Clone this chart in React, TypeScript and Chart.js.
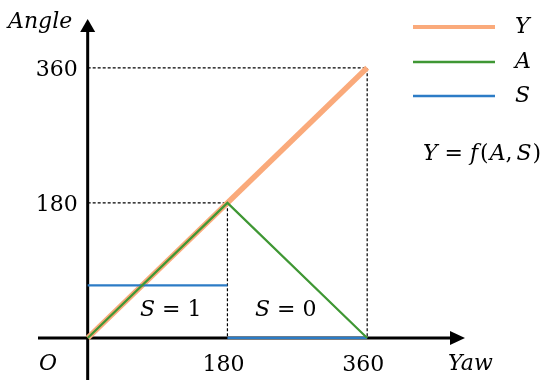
import React, { useEffect, useRef } from "react";
import { Chart, registerables } from "chart.js";

Chart.register(...registerables);

// ---- data ----
const yawTicks = [180, 360];
const angleTicks = [180, 360];
const yYaw = [0, 360];
const yValues = [0, 360];
const aYaw = [0, 180, 360];
const aValues = [0, 180, 0];
const sYaw = [0, 180, 180, 180, 360];
const sValues: (number | null)[] = [70, 70, null, 0, 0];
const seriesNames = ["Y", "A", "S"];

const COLORS = { Y: "#FAAA7B", A: "#3F9734", S: "#2C7CC6" };
const FONT = '"DejaVu Serif", "Liberation Serif", serif';

const toPts = (xs: number[], ys: (number | null)[]) => xs.map((x, i) => ({ x, y: ys[i] }));

type Run = [string, boolean, number?];
function drawRich(ctx: CanvasRenderingContext2D, runs: Run[], x: number, y: number, size: number, align: "left" | "center" | "right" = "left") {
  let total = 0;
  const widths = runs.map(([t, it, gap]) => {
    ctx.font = `${it ? "italic " : ""}${size}px ${FONT}`;
    const w = ctx.measureText(t).width + (gap || 0);
    total += w;
    return w;
  });
  let cx = align === "left" ? x : align === "center" ? x - total / 2 : x - total;
  ctx.textBaseline = "alphabetic";
  ctx.textAlign = "left";
  runs.forEach(([t, it], i) => {
    ctx.font = `${it ? "italic " : ""}${size}px ${FONT}`;
    ctx.fillText(t, cx, y);
    cx += widths[i];
  });
}

const axesPlugin = {
  id: "axesArrows",
  beforeDatasetsDraw(chart: any) {
    const ctx = chart.ctx as CanvasRenderingContext2D;
    const xs = chart.scales.x;
    const ys = chart.scales.y;
    const x0 = xs.getPixelForValue(0);
    const y0 = ys.getPixelForValue(0);
    const left = xs.getPixelForValue(xs.min);
    const right = xs.getPixelForValue(xs.max);
    const top = ys.getPixelForValue(ys.max);
    const bottom = ys.getPixelForValue(ys.min);
    ctx.save();
    ctx.strokeStyle = "#000";
    ctx.fillStyle = "#000";
    ctx.lineWidth = 3;
    ctx.beginPath();
    ctx.moveTo(left, y0);
    ctx.lineTo(right - 14, y0);
    ctx.moveTo(x0, bottom);
    ctx.lineTo(x0, top + 12);
    ctx.stroke();
    // arrow heads
    ctx.beginPath();
    ctx.moveTo(right, y0);
    ctx.lineTo(right - 15, y0 - 7);
    ctx.lineTo(right - 15, y0 + 7);
    ctx.closePath();
    ctx.fill();
    ctx.beginPath();
    ctx.moveTo(x0, top);
    ctx.lineTo(x0 - 7.5, top + 13);
    ctx.lineTo(x0 + 7.5, top + 13);
    ctx.closePath();
    ctx.fill();
    ctx.restore();
  },
  afterDraw(chart: any) {
    const ctx = chart.ctx as CanvasRenderingContext2D;
    const xs = chart.scales.x;
    const ys = chart.scales.y;
    const x0 = xs.getPixelForValue(0);
    const y0 = ys.getPixelForValue(0);
    ctx.save();
    ctx.fillStyle = "#000";
    const size = 22;
    // axis titles
    drawRich(ctx, [["Angle", true]], 8, 28, size);
    drawRich(ctx, [["Yaw", true]], 448, y0 + 32, size);
    drawRich(ctx, [["O", true]], 39, y0 + 32, size);
    // tick labels
    angleTicks.forEach((v) => {
      drawRich(ctx, [[String(v), false]], x0 - 10, ys.getPixelForValue(v) + 8, size, "right");
    });
    yawTicks.forEach((v) => {
      drawRich(ctx, [[String(v), false]], xs.getPixelForValue(v) - 4, y0 + 33, size, "center");
    });
    // region labels
    drawRich(ctx, [["S", true], [" = 1", false]], 140, 316, size);
    drawRich(ctx, [["S", true], [" = 0", false]], 255, 316, size);
    // legend
    const legendColors = [COLORS.Y, COLORS.A, COLORS.S];
    const legendW = [4, 2.5, 2.5];
    const legendY = [27, 62, 96];
    seriesNames.forEach((name, i) => {
      ctx.strokeStyle = legendColors[i];
      ctx.lineWidth = legendW[i];
      ctx.beginPath();
      ctx.moveTo(413, legendY[i]);
      ctx.lineTo(495, legendY[i]);
      ctx.stroke();
      drawRich(ctx, [[name, true]], 515, legendY[i] + 6, size);
    });
    drawRich(
      ctx,
      [["Y", true], [" = ", false], ["f", true, 2], ["(", false, 1], ["A", true], [",", false, 4], ["S", true, 1], [")", false]],
      423,
      160,
      size
    );
    ctx.restore();
  },
};

export default function App() {
  const ref = useRef<HTMLCanvasElement>(null);
  useEffect(() => {
    if (!ref.current) return;
    const dash = (pts: { x: number; y: number }[]) => ({
      data: pts,
      borderColor: "#000",
      borderWidth: 1.2,
      borderDash: [3, 2],
      pointRadius: 0,
      order: 5,
    });
    const chart = new Chart(ref.current, {
      type: "line",
      data: {
        datasets: [
          {
            label: "A",
            data: toPts(aYaw, aValues),
            borderColor: COLORS.A,
            borderWidth: 2.2,
            pointRadius: 0,
            order: 0,
          },
          {
            label: "Y",
            data: toPts(yYaw, yValues),
            borderColor: COLORS.Y,
            borderWidth: 5.5,
            pointRadius: 0,
            order: 2,
          },
          {
            label: "S",
            data: toPts(sYaw, sValues),
            borderColor: COLORS.S,
            borderWidth: 2.2,
            pointRadius: 0,
            spanGaps: false,
            order: 1,
          },
          dash([{ x: 0, y: angleTicks[1] }, { x: yawTicks[1], y: angleTicks[1] }, { x: yawTicks[1], y: 0 }]),
          dash([{ x: 0, y: angleTicks[0] }, { x: yawTicks[0], y: angleTicks[0] }, { x: yawTicks[0], y: 0 }]),
        ] as any,
      },
      options: {
        animation: false,
        responsive: false,
        devicePixelRatio: 1,
        layout: { padding: { left: 38, right: 85, top: 19, bottom: 5 } },
        plugins: { legend: { display: false }, tooltip: { enabled: false } },
        elements: { line: { tension: 0, borderCapStyle: "butt" } },
        scales: {
          x: { type: "linear", min: -64, max: 486, display: false },
          y: { type: "linear", min: -56, max: 425, display: false },
        },
      },
      plugins: [axesPlugin],
    });
    return () => chart.destroy();
  }, []);
  return (
    <div style={{ position: "absolute", left: 0, top: 0, width: 550, height: 385, background: "#fff" }}>
      <canvas ref={ref} width={550} height={385} />
    </div>
  );
}
